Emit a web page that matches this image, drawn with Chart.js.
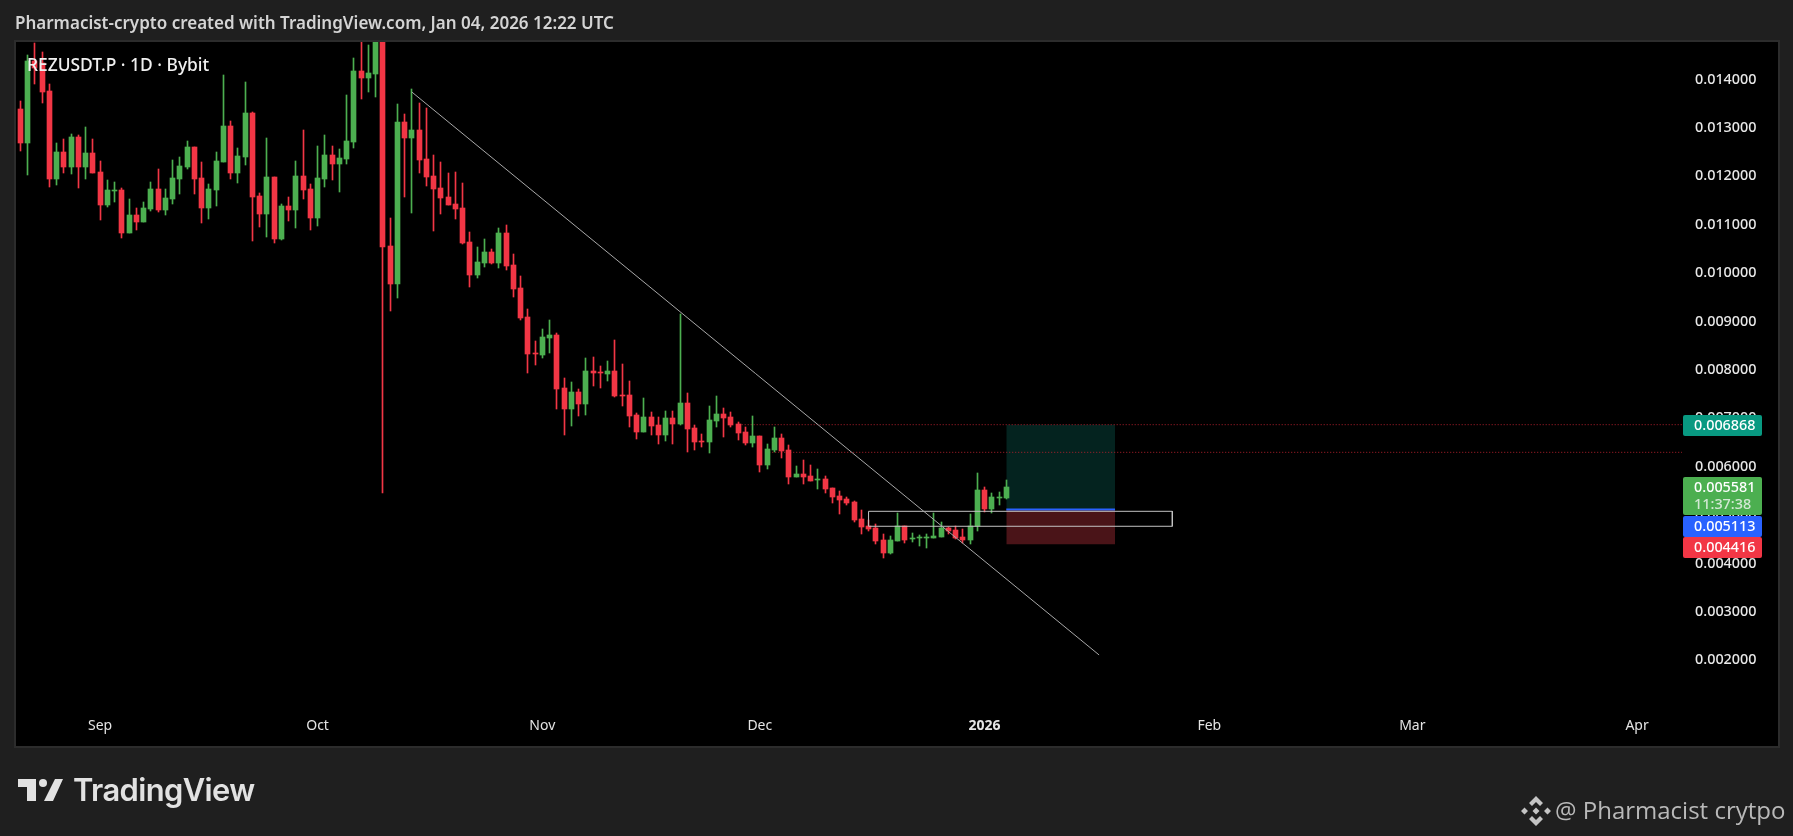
<!DOCTYPE html>
<html>
<head>
<meta charset="utf-8">
<title>REZUSDT.P</title>
<script src="https://cdn.jsdelivr.net/npm/chart.js@4"></script>
<style>
    html, body { margin: 0; padding: 0; background: #1f1f1f; overflow: hidden; }
    body { width: 1793px; height: 836px; position: relative; font-family: "Noto Sans", sans-serif; }
    #panel { position: absolute; left: 14px; top: 40px; width: 1762px; height: 704px; background: #000; border: 2px solid #2c2c2c; }
    canvas { position: absolute; left: 0; top: 0; }
    .title { position: absolute; left: 15px; top: 11px; font-size: 17px; font-weight: 600; color: #d4d4d4; white-space: nowrap; }
    .symbol { position: absolute; left: 27px; top: 52px; font-size: 17.4px; font-weight: 500; color: #f0f0f0; white-space: nowrap; }
    .logo { position: absolute; left: 18px; top: 770px; }
    .logoText { position: absolute; left: 73px; top: 771px; font-family: Inter, sans-serif; font-size: 30.9px; font-weight: 600; color: #e2e2e2; letter-spacing: -0.6px; white-space: nowrap; }
    .mark { position: absolute; left: 1520px; top: 795px; }
    .credit { position: absolute; left: 1555px; top: 793px; font-family: "Open Sans", sans-serif; font-size: 24px; color: #b9b9b9; white-space: nowrap; }
</style>
</head>
<body>
<div id="panel"></div>
<canvas id="chart" width="1793" height="836"></canvas>
<div class="title">Pharmacist-crypto created with TradingView.com, Jan 04, 2026 12:22 UTC</div>
<div class="symbol">REZUSDT.P · 1D · Bybit</div>
<svg class="logo" width="54" height="34" viewBox="0 0 54 34">
    <path d="M0 9H18V31H9V17H0Z M37 9H45L35 31H26Z" fill="#e2e2e2"/>
    <circle cx="25" cy="13" r="4" fill="#e2e2e2"/>
</svg>
<div class="logoText">TradingView</div>
<svg class="mark" width="32" height="32" viewBox="0 0 32 32" fill="#c4c4c4">
    <path d="M16 1L23 8L20 11L16 7L12 11L9 8Z M16 31L23 24L20 21L16 25L12 21L9 24Z"/>
    <path d="M4.5 12.5L8 16L4.5 19.5L1 16Z M27.5 12.5L31 16L27.5 19.5L24 16Z M16 12.5L19.5 16L16 19.5L12.5 16Z"/>
</svg>
<div class="credit">@ Pharmacist crytpo</div>

<script>
// Daily candles, REZUSDT.P, one per day from Aug 21 2025 to Jan 04 2026
const opens = [
    0.013390, 0.012688, 0.014382, 0.014333, 0.013762, 0.011944, 0.012502, 0.012192, 0.012811, 0.012192,
    0.012481, 0.012088, 0.011406, 0.011696, 0.011716, 0.010828, 0.011200, 0.011055, 0.011324, 0.011737,
    0.011303, 0.011530, 0.011944, 0.012192, 0.012605, 0.011964, 0.011344, 0.011716, 0.012295, 0.013039,
    0.012068, 0.012398, 0.013307, 0.011592, 0.011221, 0.011985, 0.010704, 0.011386, 0.011303, 0.012006,
    0.011737, 0.011138, 0.011944, 0.012440, 0.012254, 0.012357, 0.012708, 0.014175, 0.014031, 0.014113,
    0.015000, 0.010559, 0.009774, 0.013121, 0.012791, 0.012956, 0.012357, 0.012006, 0.011758, 0.011572,
    0.011427, 0.011344, 0.010642, 0.009960, 0.010208, 0.010435, 0.010208, 0.010828, 0.010167, 0.009691,
    0.009092, 0.008349, 0.008307, 0.008658, 0.008721, 0.007625, 0.007192, 0.007543, 0.007295, 0.007977,
    0.007956, 0.007915, 0.007977, 0.007481, 0.007481, 0.007068, 0.006716, 0.007026, 0.006861, 0.006655,
    0.007006, 0.006882, 0.007316, 0.006799, 0.006531, 0.006510, 0.006944, 0.007089, 0.007027, 0.006882,
    0.006717, 0.006489, 0.006634, 0.006035, 0.006345, 0.006593, 0.006345, 0.005787, 0.005849, 0.005808,
    0.005725, 0.005746, 0.005560, 0.005394, 0.005332, 0.005270, 0.004919, 0.004774, 0.004733, 0.004485,
    0.004217, 0.004465, 0.004774, 0.004506, 0.004527, 0.004527, 0.004527, 0.004547, 0.004733, 0.004692,
    0.004547, 0.004485, 0.004775, 0.005518, 0.005126, 0.005353, 0.005353
];
const highs = [
    0.013556, 0.014506, 0.014760, 0.014568, 0.013906, 0.012688, 0.012770, 0.012873, 0.012846, 0.013018,
    0.012770, 0.012316, 0.011923, 0.011882, 0.011758, 0.011530, 0.011344, 0.011469, 0.011882, 0.012150,
    0.011737, 0.012336, 0.012398, 0.012729, 0.012605, 0.012295, 0.011840, 0.012502, 0.014092, 0.013142,
    0.012584, 0.013948, 0.013328, 0.011654, 0.012791, 0.011985, 0.011427, 0.011572, 0.012316, 0.012956,
    0.011840, 0.012626, 0.012853, 0.012626, 0.012564, 0.013679, 0.014444, 0.015100, 0.014712, 0.015300,
    0.015400, 0.011138, 0.013493, 0.013287, 0.013803, 0.013514, 0.013410, 0.012439, 0.012295, 0.012068,
    0.012088, 0.011861, 0.010849, 0.010539, 0.010704, 0.010497, 0.010931, 0.010993, 0.010394, 0.009939,
    0.009258, 0.008596, 0.008844, 0.009030, 0.008762, 0.007832, 0.007749, 0.007605, 0.008245, 0.008266,
    0.008080, 0.008183, 0.008617, 0.008121, 0.007770, 0.007109, 0.007419, 0.007130, 0.007026, 0.007151,
    0.007151, 0.009155, 0.007522, 0.006861, 0.006675, 0.007254, 0.007460, 0.007212, 0.007130, 0.006923,
    0.006820, 0.007047, 0.006634, 0.006469, 0.006820, 0.006675, 0.006448, 0.006014, 0.006138, 0.006035,
    0.005952, 0.005808, 0.005560, 0.005498, 0.005374, 0.005291, 0.005105, 0.004898, 0.004816, 0.004609,
    0.004568, 0.005043, 0.004774, 0.004630, 0.004589, 0.004609, 0.005043, 0.004857, 0.004754, 0.004775,
    0.004713, 0.005023, 0.005870, 0.005580, 0.005456, 0.005477, 0.005725
];
const lows = [
    0.012523, 0.012026, 0.013906, 0.013514, 0.011778, 0.011820, 0.012068, 0.012047, 0.011758, 0.011944,
    0.012068, 0.011097, 0.011365, 0.011469, 0.010725, 0.010828, 0.010890, 0.011055, 0.011283, 0.011262,
    0.011200, 0.011427, 0.011634, 0.012150, 0.011634, 0.011035, 0.011117, 0.011386, 0.012295, 0.011944,
    0.011861, 0.012233, 0.010663, 0.010952, 0.010745, 0.010621, 0.010683, 0.011076, 0.010931, 0.011530,
    0.010890, 0.010973, 0.011778, 0.011923, 0.011675, 0.012254, 0.012584, 0.013597, 0.013741, 0.013638,
    0.005456, 0.009216, 0.009485, 0.011572, 0.011241, 0.012068, 0.011799, 0.010869, 0.011220, 0.011406,
    0.011117, 0.010601, 0.009712, 0.009898, 0.010125, 0.010187, 0.010105, 0.010063, 0.009506, 0.009030,
    0.007935, 0.008101, 0.008245, 0.008349, 0.007192, 0.006654, 0.006840, 0.007047, 0.007068, 0.007667,
    0.007625, 0.007770, 0.007439, 0.007254, 0.006820, 0.006572, 0.006716, 0.006654, 0.006468, 0.006531,
    0.006469, 0.006861, 0.006303, 0.006345, 0.006407, 0.006283, 0.006820, 0.006613, 0.006820, 0.006551,
    0.006448, 0.006407, 0.005890, 0.005952, 0.006303, 0.006179, 0.005642, 0.005787, 0.005642, 0.005704,
    0.005539, 0.005456, 0.005250, 0.005022, 0.005208, 0.004857, 0.004609, 0.004671, 0.004403, 0.004113,
    0.004196, 0.004465, 0.004423, 0.004444, 0.004361, 0.004320, 0.004527, 0.004547, 0.004609, 0.004506,
    0.004423, 0.004403, 0.004671, 0.005064, 0.005043, 0.005209, 0.005333
];
const closes = [
    0.012688, 0.014382, 0.014230, 0.013741, 0.011944, 0.012502, 0.012192, 0.012811, 0.012192, 0.012481,
    0.012068, 0.011406, 0.011716, 0.011716, 0.010828, 0.011200, 0.011055, 0.011344, 0.011737, 0.011303,
    0.011551, 0.011964, 0.012212, 0.012605, 0.011944, 0.011344, 0.011737, 0.012316, 0.013039, 0.012068,
    0.012419, 0.013307, 0.011572, 0.011221, 0.011985, 0.010704, 0.011386, 0.011303, 0.012006, 0.011716,
    0.011138, 0.011964, 0.012440, 0.012254, 0.012378, 0.012729, 0.014175, 0.014031, 0.014134, 0.015000,
    0.010539, 0.009774, 0.013121, 0.012791, 0.012956, 0.012336, 0.011985, 0.011737, 0.011551, 0.011406,
    0.011324, 0.010621, 0.009960, 0.010229, 0.010435, 0.010208, 0.010828, 0.010146, 0.009671, 0.009072,
    0.008328, 0.008328, 0.008679, 0.008721, 0.007605, 0.007192, 0.007543, 0.007295, 0.007977, 0.007935,
    0.007935, 0.007977, 0.007460, 0.007460, 0.007047, 0.006716, 0.007026, 0.006840, 0.006654, 0.007006,
    0.006882, 0.007316, 0.006779, 0.006510, 0.006510, 0.006965, 0.007089, 0.007006, 0.006861, 0.006696,
    0.006489, 0.006634, 0.006035, 0.006365, 0.006593, 0.006324, 0.005787, 0.005849, 0.005787, 0.005704,
    0.005746, 0.005539, 0.005374, 0.005312, 0.005250, 0.004898, 0.004754, 0.004713, 0.004465, 0.004217,
    0.004485, 0.004774, 0.004485, 0.004527, 0.004547, 0.004547, 0.004568, 0.004733, 0.004671, 0.004527,
    0.004485, 0.004775, 0.005518, 0.005126, 0.005374, 0.005367, 0.005581
];

// Axis ticks
const priceTicks = [0.002, 0.003, 0.004, 0.005, 0.006, 0.007, 0.008, 0.009, 0.010, 0.011, 0.012, 0.013, 0.014];
const monthTicks = [11, 41, 72, 102, 133, 164, 192, 223]; // bar index of the 1st of each month
const monthLabels = ["Sep", "Oct", "Nov", "Dec", "2026", "Feb", "Mar", "Apr"];

// Drawings on the chart, bar index and price
const trendX = [54, 148.8];
const trendY = [0.013742, 0.002110];
const targetPrice = 0.006868;
const secondLevel = 0.006297;
const entryPrice = 0.005113;
const stopZoneBottom = 0.004395;
const levelStart = [99.5, 103.3];
const positionX = [136, 151];
const boxX = [117, 158.9];
const boxY = [0.004769, 0.005078];

// Price tags on the right
const tagPrices = [0.006868, 0.005581, 0.005113, 0.004416];
const tagColors = ["#089981", "#4caf50", "#2962ff", "#f23645"];
const tagNudge = [0, 0, 16.5, 3.5];
const countdown = "11:37:38";

const GREEN = "#4caf50";
const RED = "#f23645";
const candleColors = closes.map((c, i) => (c >= opens[i] ? GREEN : RED));

// Keep candles on whole pixels, the way the original renders them
const snapBars = {
    id: "snapBars",
    afterDatasetsUpdate(chart) {
        chart.data.datasets.forEach((ds, n) => {
            if (ds.type !== "bar") return;
            const half = ds.barThickness / 2;
            chart.getDatasetMeta(n).data.forEach(el => {
                el.x = Math.round(el.x - half) + half;
                el.y = Math.round(el.y);
                el.base = Math.max(Math.round(el.base), el.y + 1);
            });
        });
    }
};

// Coloured price labels over the axis
const priceTags = {
    id: "priceTags",
    afterDraw(chart) {
        const ctx = chart.ctx;
        const y = chart.scales.y;
        ctx.save();
        ctx.textBaseline = "middle";
        ctx.textAlign = "left";
        tagPrices.forEach((price, i) => {
            const top = Math.round(y.getPixelForValue(price) - 10 + tagNudge[i]);
            const h = i === 1 ? 38 : 21;
            ctx.fillStyle = tagColors[i];
            ctx.beginPath();
            ctx.roundRect(1683, top, 79, h, 2);
            ctx.fill();
            ctx.font = "500 14.4px 'Noto Sans'";
            ctx.fillStyle = "#ffffff";
            ctx.fillText(price.toFixed(6), 1694, top + 10.5);
            if (i === 1) {
                ctx.fillStyle = "#d4e9d5";
                ctx.fillText(countdown, 1694, top + 28);
            }
        });
        ctx.restore();
    }
};

function candleData(top, bottom) {
    return top.map((v, i) => ({ x: i, y: [bottom[i], v] }));
}

function xyLine(xs, ys) {
    return xs.map((x, i) => ({ x: x, y: ys[i] }));
}

const bodyTop = opens.map((o, i) => Math.max(o, closes[i]));
const bodyBottom = opens.map((o, i) => Math.min(o, closes[i]));

const lineDefaults = { type: "line", pointRadius: 0, borderWidth: 1, fill: false, tension: 0 };

new Chart(document.getElementById("chart"), {
    type: "bar",
    data: {
        datasets: [
            // trend line and drawn box stay on top of the candles
            { ...lineDefaults, data: xyLine(trendX, trendY), borderColor: "#a8a8a8", order: 1 },
            { ...lineDefaults, data: xyLine([boxX[0], boxX[1], boxX[1], boxX[0], boxX[0]], [boxY[1], boxY[1], boxY[0], boxY[0], boxY[1]]), borderColor: "#c4c4c4", order: 2 },
            { ...lineDefaults, data: xyLine(positionX, [entryPrice, entryPrice]), borderColor: "#2962ff", borderWidth: 2, order: 3 },
            // candles
            { type: "bar", grouped: false, data: candleData(bodyTop, bodyBottom), backgroundColor: candleColors, barThickness: 5, order: 4 },
            { type: "bar", grouped: false, data: candleData(highs, lows), backgroundColor: candleColors, barThickness: 1, order: 5 },
            // dotted levels
            { ...lineDefaults, data: xyLine([levelStart[0], 229.2], [targetPrice, targetPrice]), borderColor: "#b3202c", borderDash: [1, 2], order: 6 },
            { ...lineDefaults, data: xyLine([levelStart[1], 229.2], [secondLevel, secondLevel]), borderColor: "#b3202c", borderDash: [1, 2], order: 6 },
            // long position zones
            { ...lineDefaults, data: xyLine(positionX, [targetPrice, targetPrice]), borderWidth: 0, fill: { value: entryPrice }, backgroundColor: "#04231f", order: 7 },
            { ...lineDefaults, data: xyLine(positionX, [stopZoneBottom, stopZoneBottom]), borderWidth: 0, fill: { value: entryPrice }, backgroundColor: "#4a1418", order: 7 }
        ]
    },
    options: {
        responsive: false,
        animation: false,
        devicePixelRatio: 1,
        layout: { padding: { left: 16, top: 42, right: 0, bottom: 0 } },
        plugins: { legend: { display: false }, tooltip: { enabled: false } },
        scales: {
            x: {
                type: "linear",
                offset: false,
                min: -0.593,
                max: 229.2,
                grid: { display: false },
                border: { display: false },
                afterFit(scale) { scale.height = 128; },
                afterBuildTicks(scale) { scale.ticks = monthTicks.map(v => ({ value: v })); },
                ticks: {
                    autoSkip: false,
                    maxRotation: 0,
                    padding: 2,
                    color: "#e4e4e4",
                    font: ctx => ({ family: "Noto Sans", size: 14, weight: ctx.tick && ctx.tick.value === 133 ? "700" : "400" }),
                    callback: value => monthLabels[monthTicks.indexOf(value)]
                }
            },
            y: {
                position: "right",
                min: 0.001014,
                max: 0.014775,
                grid: { display: false },
                border: { display: false },
                afterFit(scale) { scale.width = 111; },
                afterBuildTicks(scale) { scale.ticks = priceTicks.map(v => ({ value: v })); },
                ticks: {
                    padding: 5,
                    color: "#e8e8e8",
                    font: { family: "Noto Sans", size: 14.4, weight: "500" },
                    callback: value => value.toFixed(6)
                }
            }
        }
    },
    plugins: [snapBars, priceTags]
});
</script>
</body>
</html>
